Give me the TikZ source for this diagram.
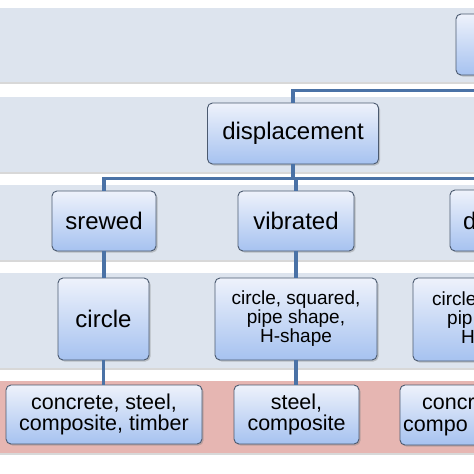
\documentclass[tikz,border=0pt]{standalone}
\usepackage{fontspec}
\setmainfont{Liberation Sans}
\usetikzlibrary{shadows}
\definecolor{bandfill}{HTML}{DDE4EE}
\definecolor{pinkfill}{HTML}{E6B6B2}
\definecolor{linkcol}{HTML}{4A72A6}
\definecolor{boxtop}{HTML}{EEF2FB}
\definecolor{boxbot}{HTML}{A6C2F0}
\definecolor{boxline}{HTML}{4B5A70}
\begin{document}
\begin{tikzpicture}[x=1pt,y=-1pt,
  band/.style={fill=bandfill, draw=none, drop shadow={shadow xshift=0pt, shadow yshift=-2pt, opacity=0.3}},
  pinkband/.style={fill=pinkfill, draw=none, drop shadow={shadow xshift=0pt, shadow yshift=-2pt, opacity=0.3}},
  box/.style={rectangle, rounded corners=5pt, draw=boxline, line width=0.9pt,
    top color=boxtop, bottom color=boxbot,
    drop shadow={shadow xshift=1.5pt, shadow yshift=-1.5pt, opacity=0.4},
    inner sep=0pt, align=center, text=black},
  big/.style={font=\fontsize{24}{26}\selectfont},
  mid/.style={font=\fontsize{19}{19}\selectfont},
  low/.style={font=\fontsize{21.5}{21.5}\selectfont},
  frag/.style={inner sep=0pt, anchor=base west, text=black},
  link/.style={draw=linkcol, line width=3.5pt}
]
\useasboundingbox (0,0) rectangle (474,474);
\clip (0,0) rectangle (474,474);
\fill[white] (0,0) rectangle (474,474);
% bands
\path[band] (-10,8) rectangle (484,82);
\path[band] (-10,97) rectangle (484,172);
\path[band] (-10,185) rectangle (484,260);
\path[band] (-10,273) rectangle (484,368);
\path[pinkband] (-10,381) rectangle (484,453);
% level 0
\node[box, minimum width=190pt, minimum height=61pt] (top) at (551,44.5) {};
% level 1
\node[box, big, minimum width=171pt, minimum height=61pt] (disp) at (293,133.5) {displacement};
% level 2
\node[box, big, minimum width=104pt, minimum height=60pt] (srew) at (104,221) {srewed};
\node[box, big, minimum width=116pt, minimum height=60pt] (vibr) at (296,221) {vibrated};
\node[box, minimum width=110pt, minimum height=61pt] (drv) at (505,220.5) {};
\node[frag, big] (drvtxt) at (463,229.7) {d};
% level 3
\node[box, big, minimum width=91pt, minimum height=82pt] (circ) at (103.5,319) {circle};
\node[box, mid, minimum width=162pt, minimum height=82pt] (vchild) at (296,319) {circle, squared,\\pipe shape,\\H-shape};
\node[box, minimum width=162pt, minimum height=83pt] (dchild) at (494,319.5) {};
\node[frag, mid] (dc1) at (432,305) {circle};
\node[frag, mid] (dc2) at (447,324) {pip};
\node[frag, mid] (dc3) at (461,343) {H};
% level 4
\node[box, low, minimum width=196pt, minimum height=59pt] (conc) at (104,414.5) {concrete, steel,\\composite, timber};
\node[box, low, minimum width=125pt, minimum height=59pt] (steel) at (296.5,414.5) {steel,\\composite};
\node[box, minimum width=190pt, minimum height=60pt] (dbot) at (495,415) {};
\node[frag, low] (db1) at (422,409.5) {concr};
\node[frag, low] (db2) at (403,431) {compo};
% connectors
\draw[link] (top.south) -- ++(0,15) -| (disp.north);
\draw[link] (disp.south) -- ++(0,14) -| (srew.north);
\draw[link] (disp.south) -- ++(0,14) -| (vibr.north);
\draw[link] (disp.south) -- ++(0,14) -| (drv.north);
\draw[link] (srew.south) -- (srew.south |- circ.north);
\draw[link] (vibr.south) -- (vibr.south |- vchild.north);
\draw[link] (circ.south) -- (circ.south |- conc.north);
\draw[link] (vchild.south) -- (vchild.south |- steel.north);
\end{tikzpicture}
\end{document}
